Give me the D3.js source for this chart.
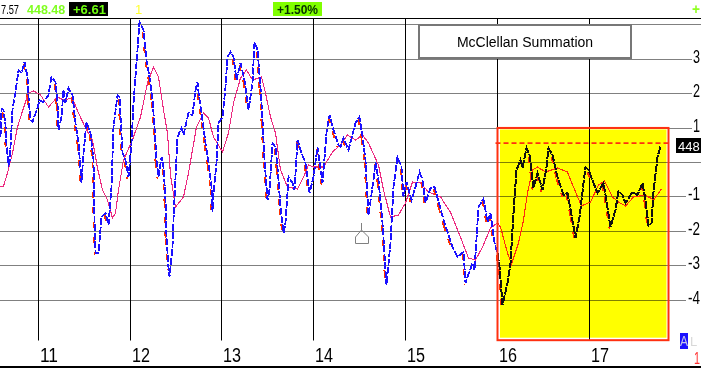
<!DOCTYPE html>
<html>
<head>
<meta charset="utf-8">
<script src="https://cdn.jsdelivr.net/npm/d3@7"></script>
<style>
    html, body { margin: 0; padding: 0; background: #fff; overflow: hidden; }
    svg { display: block; }
    text { font-family: "Liberation Sans", Arial, sans-serif; }
</style>
</head>
<body>
<svg id="chart" width="701" height="368"></svg>
<script>
// one bar per pixel on this chart, so x values are bar numbers
const year_labels = ["11", "12", "13", "14", "15", "16", "17"];
const year_bars = [38, 130, 221, 313, 405, 497, 589];

const grid_values = [4000, 3000, 2000, 1000, 0, -1000, -2000, -3000, -4000];
const tick_labels = ["", "3", "2", "1", "", "-1", "-2", "-3", "-4"];

const sum_bars = [0,1,3,5,6,7,8,9,10,12,15,18,21,24,27,28,30,32,37,39,43,48,51,55,57,58,61,63,65,68,72,75,78,81,83,86,90,93,94,95,98,101,105,108,111,113,117,119,122,125,128,131,133,136,139,143,146,149,152,154,156,158,161,163,165,166,168,169,172,173,175,177,181,183,188,192,195,197,198,202,205,208,211,212,213,216,218,222,225,227,230,233,236,240,244,248,252,254,257,260,262,264,267,269,272,275,277,280,283,285,288,292,294,297,301,305,309,313,317,322,326,329,333,338,340,343,348,355,359,362,365,368,373,375,378,382,385,386,390,393,397,401,403,406,411,415,419,422,425,430,434,439,444,452,457,463,465,472,474,478,483,487,490,494,497,499,502,507,510,513,516,520,522,526,529,533,537,542,546,548,552,557,563,567,571,575,579,585,588,593,597,603,605,610,615,618,622,625,632,637,642,645,648,651,653,657,660];
const sum_values = [727,1541,1512,1076,494,203,-87,-29,436,1512,2035,2674,2587,2907,2471,1890,1221,1163,1570,1802,1744,1948,2471,2326,1715,930,1308,2093,1715,2151,1948,1134,552,-610,262,1163,843,58,-1686,-2645,-2645,-1599,-1483,-1831,-727,1017,1948,1890,262,58,-436,552,1715,2878,4070,3837,2965,2471,1802,1017,58,-436,145,-145,-1105,-2180,-3081,-3343,-2471,-1686,-436,727,988,785,1424,1366,2093,2326,2035,1221,552,-29,-727,-1454,-901,-29,1134,1308,2180,3052,3198,3052,2384,2878,2384,1512,2297,3488,3256,2180,1221,58,-1105,-814,552,436,-145,-1308,-2064,-1773,-436,-610,-814,640,262,-29,-901,-436,436,-610,843,1366,930,494,436,698,349,1134,1308,727,58,-1541,-523,0,-523,-1773,-3140,-3576,-2355,-727,145,-145,-1017,-581,-1105,-727,-291,-523,-1192,-756,-727,-1250,-1773,-2471,-2762,-2616,-3517,-2936,-3140,-1308,-1076,-1744,-1483,-2355,-2645,-3052,-4157,-3517,-2936,-1483,-233,58,-174,407,203,-756,-320,-814,-145,407,203,-436,-959,-901,-1541,-2209,-1599,-145,-233,-610,-901,-610,-959,-1890,-1395,-843,-959,-1192,-872,-959,-610,-1105,-1860,-1773,-872,145,448];

const avg_bars = [0,3,7,12,17,23,28,33,40,48,57,63,72,78,85,92,97,102,107,112,115,118,123,132,140,147,153,158,163,167,170,175,183,188,192,196,203,208,213,222,228,233,240,246,252,261,265,270,275,280,287,297,303,308,313,323,332,340,347,355,362,368,378,383,390,398,405,412,420,428,440,450,458,468,475,482,490,497,500,507,511,518,523,527,532,537,545,557,567,573,581,590,598,604,612,618,625,633,645,653,661];
const avg_values = [-727,-698,-320,262,1017,1570,2006,2064,1948,1599,1890,1802,1860,1424,988,640,-174,-814,-1105,-1628,-1483,-814,58,640,1308,2297,2762,2471,1512,843,-378,-1308,-1017,-320,349,1017,1424,1279,727,291,843,1715,2442,2674,2384,2471,2006,1308,843,-233,-727,-785,-436,-87,-145,-145,291,494,785,640,785,552,-87,-814,-1599,-1541,-1192,-581,-610,-872,-1017,-1454,-2035,-2791,-2849,-2471,-1919,-1773,-1890,-2645,-2965,-2355,-1686,-901,-233,-145,-291,-174,-291,-727,-1279,-1163,-669,-552,-1017,-1163,-1279,-1017,-959,-1105,-785];

const last_value = 448.48;
const alert_level = 550;
const highlight_bars = [497, 668];
const highlight_levels = [990, -5180];
const alert_bars = [495, 668];

const svg = d3.select("#chart"),
    width = +svg.attr("width"),
    height = +svg.attr("height");

const x = d3.scaleLinear().domain([0, 701]).range([0.5, 701.5]);
const y = d3.scaleLinear().domain([0, 1000]).range([162, 127.6]);

const sum_points = sum_bars.map((b, i) => [b, sum_values[i]]);
const avg_points = avg_bars.map((b, i) => [b, avg_values[i]]);
const start_box = highlight_bars[0];

const line = d3.line().x(d => x(d[0])).y(d => y(d[1]));

// yellow study box
svg.append("rect")
    .attr("x", x(highlight_bars[0]) + 2.5)
    .attr("y", y(highlight_levels[0]) + 1.5)
    .attr("width", x(highlight_bars[1]) - x(highlight_bars[0]) - 4.5)
    .attr("height", y(highlight_levels[1]) - y(highlight_levels[0]) - 4)
    .attr("fill", "#ffff00");

// grey levels, they go olive on the yellow
svg.append("g").style("mix-blend-mode", "multiply")
    .selectAll("line")
    .data(grid_values)
    .enter()
    .append("line")
    .attr("x1", 0)
    .attr("x2", function(d, i) {
        if (tick_labels[i] == "") return width;
        return d > 0 ? 692 : 686;
    })
    .attr("y1", d => Math.round(y(d)) + 0.5)
    .attr("y2", d => Math.round(y(d)) + 0.5)
    .attr("stroke", "#808080")
    .attr("stroke-width", 1);

// year lines
svg.selectAll(".year")
    .data(year_bars)
    .enter()
    .append("line")
    .attr("class", "year")
    .attr("x1", d => x(d))
    .attr("x2", d => x(d))
    .attr("y1", 18)
    .attr("y2", 340.5)
    .attr("stroke", "#000")
    .attr("stroke-width", 1);

// the original font is taller and narrower than Liberation Sans
svg.selectAll(".year_label")
    .data(year_labels)
    .enter()
    .append("text")
    .attr("class", "year_label")
    .attr("x", (d, i) => x(year_bars[i]) + 1.5)
    .attr("y", 362)
    .attr("font-size", 20)
    .attr("textLength", 18)
    .attr("lengthAdjust", "spacingAndGlyphs")
    .text(d => d);

// moving average
svg.append("path")
    .attr("d", line(avg_points.filter(d => d[0] <= start_box)))
    .attr("fill", "none")
    .attr("stroke", "#ec2a80")
    .attr("stroke-width", 1.1)
    .attr("shape-rendering", "crispEdges");

// down moves show red next to the main line
const down_moves = d3.pairs(sum_points).filter(p => p[1][1] < p[0][1] - 300);
svg.selectAll(".down")
    .data(down_moves)
    .enter()
    .append("path")
    .attr("class", "down")
    .attr("d", d => line(d))
    .attr("transform", "translate(-1,2)")
    .attr("fill", "none")
    .attr("stroke", "#ff3000")
    .attr("stroke-width", 1.8)
    .attr("stroke-dasharray", "6 9")
    .attr("shape-rendering", "crispEdges");

svg.append("path")
    .attr("d", line(sum_points.filter(d => d[0] <= start_box + 2)))
    .attr("fill", "none")
    .attr("stroke", "#1a10ff")
    .attr("stroke-width", 1.8)
    .attr("stroke-dasharray", "7 1.5")
    .attr("shape-rendering", "crispEdges");

svg.append("path")
    .attr("d", line(avg_points.filter(d => d[0] >= start_box)))
    .attr("fill", "none")
    .attr("stroke", "#ff2a10")
    .attr("stroke-width", 1.1)
    .attr("shape-rendering", "crispEdges");

svg.append("path")
    .attr("d", line(sum_points.filter(d => d[0] >= start_box)))
    .attr("fill", "none")
    .attr("stroke", "#111")
    .attr("stroke-width", 2)
    .attr("stroke-dasharray", "8 1")
    .attr("shape-rendering", "crispEdges");

// red frame and alert level
svg.append("rect")
    .attr("x", x(highlight_bars[0]))
    .attr("y", y(highlight_levels[0]))
    .attr("width", x(highlight_bars[1]) - x(highlight_bars[0]))
    .attr("height", y(highlight_levels[1]) - y(highlight_levels[0]))
    .attr("fill", "none")
    .attr("stroke", "#ff3010")
    .attr("stroke-width", 2);

svg.append("line")
    .attr("x1", x(alert_bars[0]))
    .attr("x2", x(alert_bars[1]))
    .attr("y1", y(alert_level))
    .attr("y2", y(alert_level))
    .attr("stroke", "#ff3010")
    .attr("stroke-width", 1.6)
    .attr("stroke-dasharray", "5 3");

// right scale labels
svg.selectAll(".tick_label")
    .data(grid_values.filter((d, i) => tick_labels[i] != ""))
    .enter()
    .append("text")
    .attr("class", "tick_label")
    .attr("x", d => d > 0 ? 693 : 688)
    .attr("y", d => Math.round(y(d)) + 4)
    .attr("font-size", 19)
    .attr("textLength", d => d > 0 ? 7 : 12)
    .attr("lengthAdjust", "spacingAndGlyphs")
    .text(d => tick_labels[grid_values.indexOf(d)]);

// last value tag
svg.append("rect").attr("x", 676).attr("y", 138).attr("width", 25).attr("height", 15).attr("fill", "#000");
svg.append("text").attr("x", 678).attr("y", y(last_value) + 4)
    .attr("font-size", 13).attr("fill", "#fff").text("448");

// title box
svg.append("rect")
    .attr("x", 419).attr("y", 25).attr("width", 212).attr("height", 33)
    .attr("fill", "#fff").attr("stroke", "#777").attr("stroke-width", 2);
svg.append("text")
    .attr("x", 525).attr("y", 47)
    .attr("text-anchor", "middle")
    .attr("font-size", 14)
    .attr("fill", "#000")
    .text("McClellan Summation");

// house marker
svg.append("path")
    .attr("d", "M361.5,223V230L368.5,237V243.5H355.5V237L361.5,230")
    .attr("fill", "none")
    .attr("stroke", "#808080");

// header strip
svg.append("line").attr("x1", 0).attr("x2", width).attr("y1", 18.5).attr("y2", 18.5)
    .attr("stroke", "#000").attr("stroke-width", 1.2);

svg.append("text").attr("x", 1).attr("y", 14).attr("font-size", 13)
    .attr("textLength", 18).attr("lengthAdjust", "spacingAndGlyphs").text("7.57");
svg.append("text").attr("x", 27).attr("y", 14).attr("font-size", 12.5).attr("font-weight", 700)
    .attr("fill", "#80ff20").text("448.48");
svg.append("rect").attr("x", 69).attr("y", 2).attr("width", 39).attr("height", 14).attr("fill", "#000");
svg.append("text").attr("x", 73).attr("y", 14).attr("font-size", 13).attr("font-weight", 700)
    .attr("fill", "#70ff10").text("+6.61");
svg.append("text").attr("x", 135).attr("y", 14).attr("font-size", 13)
    .attr("fill", "#ffff30").text("1");
svg.append("rect").attr("x", 273).attr("y", 2).attr("width", 49).attr("height", 14).attr("fill", "#80ff00");
svg.append("text").attr("x", 277).attr("y", 14).attr("font-size", 12).attr("font-weight", 700)
    .attr("fill", "#063000").text("+1.50%");
svg.append("text").attr("x", 692).attr("y", 14).attr("font-size", 14).attr("font-weight", 700)
    .attr("textLength", 8).attr("lengthAdjust", "spacingAndGlyphs")
    .attr("fill", "#90ff20").text("+");

// corner bits
svg.append("rect").attr("x", 680).attr("y", 333).attr("width", 8).attr("height", 16).attr("fill", "#1a10ff");
svg.append("text").attr("x", 680).attr("y", 346).attr("font-size", 14)
    .attr("textLength", 8).attr("lengthAdjust", "spacingAndGlyphs").attr("fill", "#c8c8e8").text("A");
svg.append("text").attr("x", 690).attr("y", 346).attr("font-size", 13).attr("fill", "#d8d8d8").text("L");
svg.append("text").attr("x", 694).attr("y", 364).attr("font-size", 16)
    .attr("textLength", 6).attr("lengthAdjust", "spacingAndGlyphs").attr("fill", "#ff3030").text("1");

svg.append("rect").attr("x", 0).attr("y", 366).attr("width", width).attr("height", 2).attr("fill", "#000");
</script>
</body>
</html>
